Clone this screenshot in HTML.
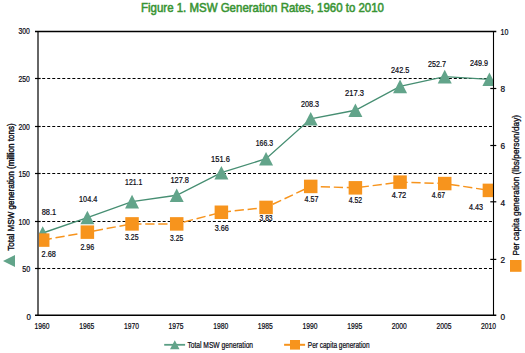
<!DOCTYPE html>
<html><head><meta charset="utf-8"><style>
html,body{margin:0;padding:0;background:#fff;width:525px;height:353px;overflow:hidden}
svg{display:block;font-family:"Liberation Sans",sans-serif}
text{stroke-width:0.22}
</style></head><body>
<svg width="525" height="353" viewBox="0 0 525 353">
<rect width="525" height="353" fill="#fff"/>
<text x="141" y="11.5" font-size="12.6" fill="#389433" stroke="#389433" style="stroke-width:0.55" textLength="243" lengthAdjust="spacingAndGlyphs">Figure 1. MSW Generation Rates, 1960 to 2010</text>
<line x1="37.18" y1="78.5" x2="493" y2="78.5" stroke="#000" stroke-width="1" stroke-dasharray="3.0 2.02"/>
<line x1="37.18" y1="126.5" x2="493" y2="126.5" stroke="#000" stroke-width="1" stroke-dasharray="3.0 2.02"/>
<line x1="37.18" y1="173.5" x2="493" y2="173.5" stroke="#000" stroke-width="1" stroke-dasharray="3.0 2.02"/>
<line x1="37.18" y1="221.5" x2="493" y2="221.5" stroke="#000" stroke-width="1" stroke-dasharray="3.0 2.02"/>
<line x1="37.18" y1="268.5" x2="493" y2="268.5" stroke="#000" stroke-width="1" stroke-dasharray="3.0 2.02"/>
<line x1="490.3" y1="88.5" x2="496.3" y2="88.5" stroke="#000" stroke-width="1.2"/>
<line x1="490.3" y1="145.5" x2="496.3" y2="145.5" stroke="#000" stroke-width="1.2"/>
<line x1="490.3" y1="201.8" x2="496.3" y2="201.8" stroke="#000" stroke-width="1.2"/>
<line x1="490.3" y1="259.4" x2="496.3" y2="259.4" stroke="#000" stroke-width="1.2"/>
<defs><clipPath id="pa"><rect x="37" y="20" width="457" height="300"/></clipPath></defs>
<g clip-path="url(#pa)">
<polyline points="42.70,233.01 87.37,217.52 132.04,201.66 176.71,195.29 221.38,172.68 266.05,158.72 310.72,118.82 355.39,110.27 400.06,86.33 444.73,76.64 489.40,79.30" fill="none" stroke="#468e72" stroke-width="1.35"/>
<polygon points="42.70,226.21 49.70,239.81 35.70,239.81" fill="#62a48a"/>
<polygon points="87.37,210.72 94.37,224.32 80.37,224.32" fill="#62a48a"/>
<polygon points="132.04,194.86 139.04,208.46 125.04,208.46" fill="#62a48a"/>
<polygon points="176.71,188.49 183.71,202.09 169.71,202.09" fill="#62a48a"/>
<polygon points="221.38,165.88 228.38,179.48 214.38,179.48" fill="#62a48a"/>
<polygon points="266.05,151.91 273.05,165.52 259.05,165.52" fill="#62a48a"/>
<polygon points="310.72,112.02 317.72,125.62 303.72,125.62" fill="#62a48a"/>
<polygon points="355.39,103.47 362.39,117.07 348.39,117.07" fill="#62a48a"/>
<polygon points="400.06,79.53 407.06,93.13 393.06,93.13" fill="#62a48a"/>
<polygon points="444.73,69.84 451.73,83.44 437.73,83.44" fill="#62a48a"/>
<polygon points="489.40,72.50 496.40,86.10 482.40,86.10" fill="#62a48a"/>
<polyline points="42.70,240.09 87.37,232.14 132.04,223.90 176.71,223.90 221.38,212.26 266.05,207.43 310.72,186.41 355.39,187.83 400.06,182.15 444.73,183.57 489.40,190.39" fill="none" stroke="#f7941d" stroke-width="1.45" stroke-dasharray="9.25 3.75"/>
<rect x="35.95" y="233.34" width="13.5" height="13.5" fill="#f7941d"/>
<rect x="80.62" y="225.39" width="13.5" height="13.5" fill="#f7941d"/>
<rect x="125.29" y="217.15" width="13.5" height="13.5" fill="#f7941d"/>
<rect x="169.96" y="217.15" width="13.5" height="13.5" fill="#f7941d"/>
<rect x="214.63" y="205.51" width="13.5" height="13.5" fill="#f7941d"/>
<rect x="259.30" y="200.68" width="13.5" height="13.5" fill="#f7941d"/>
<rect x="303.97" y="179.66" width="13.5" height="13.5" fill="#f7941d"/>
<rect x="348.64" y="181.08" width="13.5" height="13.5" fill="#f7941d"/>
<rect x="393.31" y="175.40" width="13.5" height="13.5" fill="#f7941d"/>
<rect x="437.98" y="176.82" width="13.5" height="13.5" fill="#f7941d"/>
<rect x="482.65" y="183.64" width="13.5" height="13.5" fill="#f7941d"/>
</g>
<line x1="38" y1="31" x2="38" y2="315.5" stroke="#666" stroke-width="2"/>
<line x1="493.5" y1="31" x2="493.5" y2="315.5" stroke="#000" stroke-width="1.1"/>
<line x1="35" y1="31.5" x2="496.3" y2="31.5" stroke="#000" stroke-width="1.5"/>
<line x1="35" y1="315.3" x2="496.3" y2="315.3" stroke="#000" stroke-width="1.6"/>
<line x1="35" y1="78.5" x2="40.6" y2="78.5" stroke="#000" stroke-width="1.2"/>
<line x1="35" y1="126.5" x2="40.6" y2="126.5" stroke="#000" stroke-width="1.2"/>
<line x1="35" y1="173.5" x2="40.6" y2="173.5" stroke="#000" stroke-width="1.2"/>
<line x1="35" y1="221.5" x2="40.6" y2="221.5" stroke="#000" stroke-width="1.2"/>
<line x1="35" y1="268.5" x2="40.6" y2="268.5" stroke="#000" stroke-width="1.2"/>
<text x="41.70" y="214.90" font-size="8.4" fill="#0a0a14" stroke="#0a0a14" textLength="14.50" lengthAdjust="spacingAndGlyphs">88.1</text>
<text x="79.10" y="202.00" font-size="8.4" fill="#0a0a14" stroke="#0a0a14" textLength="18.10" lengthAdjust="spacingAndGlyphs">104.4</text>
<text x="125.10" y="184.90" font-size="8.4" fill="#0a0a14" stroke="#0a0a14" textLength="17.20" lengthAdjust="spacingAndGlyphs">121.1</text>
<text x="170.40" y="183.40" font-size="8.4" fill="#0a0a14" stroke="#0a0a14" textLength="18.60" lengthAdjust="spacingAndGlyphs">127.8</text>
<text x="211.10" y="161.70" font-size="8.4" fill="#0a0a14" stroke="#0a0a14" textLength="18.80" lengthAdjust="spacingAndGlyphs">151.6</text>
<text x="255.80" y="145.70" font-size="8.4" fill="#0a0a14" stroke="#0a0a14" textLength="17.20" lengthAdjust="spacingAndGlyphs">166.3</text>
<text x="301.00" y="107.00" font-size="8.4" fill="#0a0a14" stroke="#0a0a14" textLength="18.00" lengthAdjust="spacingAndGlyphs">208.3</text>
<text x="345.10" y="95.90" font-size="8.4" fill="#0a0a14" stroke="#0a0a14" textLength="18.90" lengthAdjust="spacingAndGlyphs">217.3</text>
<text x="391.00" y="72.90" font-size="8.4" fill="#0a0a14" stroke="#0a0a14" textLength="18.30" lengthAdjust="spacingAndGlyphs">242.5</text>
<text x="428.00" y="67.00" font-size="8.4" fill="#0a0a14" stroke="#0a0a14" textLength="18.00" lengthAdjust="spacingAndGlyphs">252.7</text>
<text x="470.00" y="65.90" font-size="8.4" fill="#0a0a14" stroke="#0a0a14" textLength="18.00" lengthAdjust="spacingAndGlyphs">249.9</text>
<text x="41.60" y="257.40" font-size="8.4" fill="#0a0a14" stroke="#0a0a14" textLength="14.20" lengthAdjust="spacingAndGlyphs">2.68</text>
<text x="80.40" y="249.60" font-size="8.4" fill="#0a0a14" stroke="#0a0a14" textLength="13.80" lengthAdjust="spacingAndGlyphs">2.96</text>
<text x="125.00" y="239.50" font-size="8.4" fill="#0a0a14" stroke="#0a0a14" textLength="13.50" lengthAdjust="spacingAndGlyphs">3.25</text>
<text x="170.10" y="240.60" font-size="8.4" fill="#0a0a14" stroke="#0a0a14" textLength="13.10" lengthAdjust="spacingAndGlyphs">3.25</text>
<text x="214.80" y="230.60" font-size="8.4" fill="#0a0a14" stroke="#0a0a14" textLength="14.10" lengthAdjust="spacingAndGlyphs">3.66</text>
<text x="259.60" y="221.20" font-size="8.4" fill="#0a0a14" stroke="#0a0a14" textLength="13.00" lengthAdjust="spacingAndGlyphs">3.83</text>
<text x="304.60" y="201.70" font-size="8.4" fill="#0a0a14" stroke="#0a0a14" textLength="13.80" lengthAdjust="spacingAndGlyphs">4.57</text>
<text x="348.80" y="202.80" font-size="8.4" fill="#0a0a14" stroke="#0a0a14" textLength="13.40" lengthAdjust="spacingAndGlyphs">4.52</text>
<text x="391.70" y="198.40" font-size="8.4" fill="#0a0a14" stroke="#0a0a14" textLength="14.60" lengthAdjust="spacingAndGlyphs">4.72</text>
<text x="431.80" y="198.40" font-size="8.4" fill="#0a0a14" stroke="#0a0a14" textLength="13.30" lengthAdjust="spacingAndGlyphs">4.67</text>
<text x="469.00" y="210.40" font-size="8.4" fill="#0a0a14" stroke="#0a0a14" textLength="14.00" lengthAdjust="spacingAndGlyphs">4.43</text>
<text x="34.60" y="328.6" font-size="8.4" fill="#0a0a14" stroke="#0a0a14" textLength="15.0" lengthAdjust="spacingAndGlyphs">1960</text>
<text x="79.25" y="328.6" font-size="8.4" fill="#0a0a14" stroke="#0a0a14" textLength="15.0" lengthAdjust="spacingAndGlyphs">1965</text>
<text x="123.90" y="328.6" font-size="8.4" fill="#0a0a14" stroke="#0a0a14" textLength="15.0" lengthAdjust="spacingAndGlyphs">1970</text>
<text x="168.55" y="328.6" font-size="8.4" fill="#0a0a14" stroke="#0a0a14" textLength="15.0" lengthAdjust="spacingAndGlyphs">1975</text>
<text x="213.20" y="328.6" font-size="8.4" fill="#0a0a14" stroke="#0a0a14" textLength="15.0" lengthAdjust="spacingAndGlyphs">1980</text>
<text x="257.85" y="328.6" font-size="8.4" fill="#0a0a14" stroke="#0a0a14" textLength="15.0" lengthAdjust="spacingAndGlyphs">1985</text>
<text x="302.50" y="328.6" font-size="8.4" fill="#0a0a14" stroke="#0a0a14" textLength="15.0" lengthAdjust="spacingAndGlyphs">1990</text>
<text x="347.15" y="328.6" font-size="8.4" fill="#0a0a14" stroke="#0a0a14" textLength="15.0" lengthAdjust="spacingAndGlyphs">1995</text>
<text x="391.80" y="328.6" font-size="8.4" fill="#0a0a14" stroke="#0a0a14" textLength="15.0" lengthAdjust="spacingAndGlyphs">2000</text>
<text x="436.45" y="328.6" font-size="8.4" fill="#0a0a14" stroke="#0a0a14" textLength="15.0" lengthAdjust="spacingAndGlyphs">2005</text>
<text x="481.10" y="328.6" font-size="8.4" fill="#0a0a14" stroke="#0a0a14" textLength="15.0" lengthAdjust="spacingAndGlyphs">2010</text>
<text x="18.40" y="34.40" font-size="8.4" fill="#0a0a14" stroke="#0a0a14" textLength="11.4" lengthAdjust="spacingAndGlyphs">300</text>
<text x="18.40" y="81.80" font-size="8.4" fill="#0a0a14" stroke="#0a0a14" textLength="11.4" lengthAdjust="spacingAndGlyphs">250</text>
<text x="18.40" y="130.00" font-size="8.4" fill="#0a0a14" stroke="#0a0a14" textLength="11.4" lengthAdjust="spacingAndGlyphs">200</text>
<text x="18.40" y="176.80" font-size="8.4" fill="#0a0a14" stroke="#0a0a14" textLength="11.4" lengthAdjust="spacingAndGlyphs">150</text>
<text x="18.40" y="224.90" font-size="8.4" fill="#0a0a14" stroke="#0a0a14" textLength="11.4" lengthAdjust="spacingAndGlyphs">100</text>
<text x="22.30" y="272.20" font-size="8.4" fill="#0a0a14" stroke="#0a0a14" textLength="8.0" lengthAdjust="spacingAndGlyphs">50</text>
<text x="26.60" y="319.90" font-size="8.4" fill="#0a0a14" stroke="#0a0a14" textLength="4.4" lengthAdjust="spacingAndGlyphs">0</text>
<text x="500.6" y="35.40" font-size="8.4" fill="#0a0a14" stroke="#0a0a14" textLength="7.8" lengthAdjust="spacingAndGlyphs">10</text>
<text x="500.6" y="92.00" font-size="8.4" fill="#0a0a14" stroke="#0a0a14" textLength="4.6" lengthAdjust="spacingAndGlyphs">8</text>
<text x="500.6" y="149.40" font-size="8.4" fill="#0a0a14" stroke="#0a0a14" textLength="4.6" lengthAdjust="spacingAndGlyphs">6</text>
<text x="500.6" y="205.60" font-size="8.4" fill="#0a0a14" stroke="#0a0a14" textLength="4.6" lengthAdjust="spacingAndGlyphs">4</text>
<text x="500.6" y="263.30" font-size="8.4" fill="#0a0a14" stroke="#0a0a14" textLength="4.6" lengthAdjust="spacingAndGlyphs">2</text>
<text x="500.6" y="319.50" font-size="8.4" fill="#0a0a14" stroke="#0a0a14" textLength="4.6" lengthAdjust="spacingAndGlyphs">0</text>
<text transform="translate(13.9,250.8) rotate(-90)" font-size="9.2" fill="#0a0a14" stroke="#0a0a14" style="stroke-width:0.4" textLength="127.6" lengthAdjust="spacingAndGlyphs">Total MSW generation (million tons)</text>
<polygon points="3,261 15,255 15,267" fill="#62a48a"/>
<text transform="translate(519.0,255.6) rotate(-90)" font-size="8.4" fill="#0a0a14" stroke="#0a0a14" style="stroke-width:0.3" textLength="140.7" lengthAdjust="spacingAndGlyphs">Per capita generation (lbs/person/day)</text>
<rect x="510" y="260" width="11.5" height="11.8" fill="#f7941d"/>
<line x1="164.2" y1="344.8" x2="185.1" y2="344.8" stroke="#5a9e84" stroke-width="1.8"/>
<polygon points="174.8,340.3 179.5,349.3 170,349.3" fill="#62a48a"/>
<text x="187.4" y="348" font-size="8.4" fill="#0a0a14" stroke="#0a0a14" textLength="65.7" lengthAdjust="spacingAndGlyphs">Total MSW generation</text>
<line x1="284.1" y1="344.8" x2="305.1" y2="344.8" stroke="#f7941d" stroke-width="2"/>
<rect x="290" y="340" width="10" height="9.6" fill="#f7941d"/>
<text x="307.8" y="347.7" font-size="8.4" fill="#0a0a14" stroke="#0a0a14" textLength="61.8" lengthAdjust="spacingAndGlyphs">Per capita generation</text>
</svg>
</body></html>
